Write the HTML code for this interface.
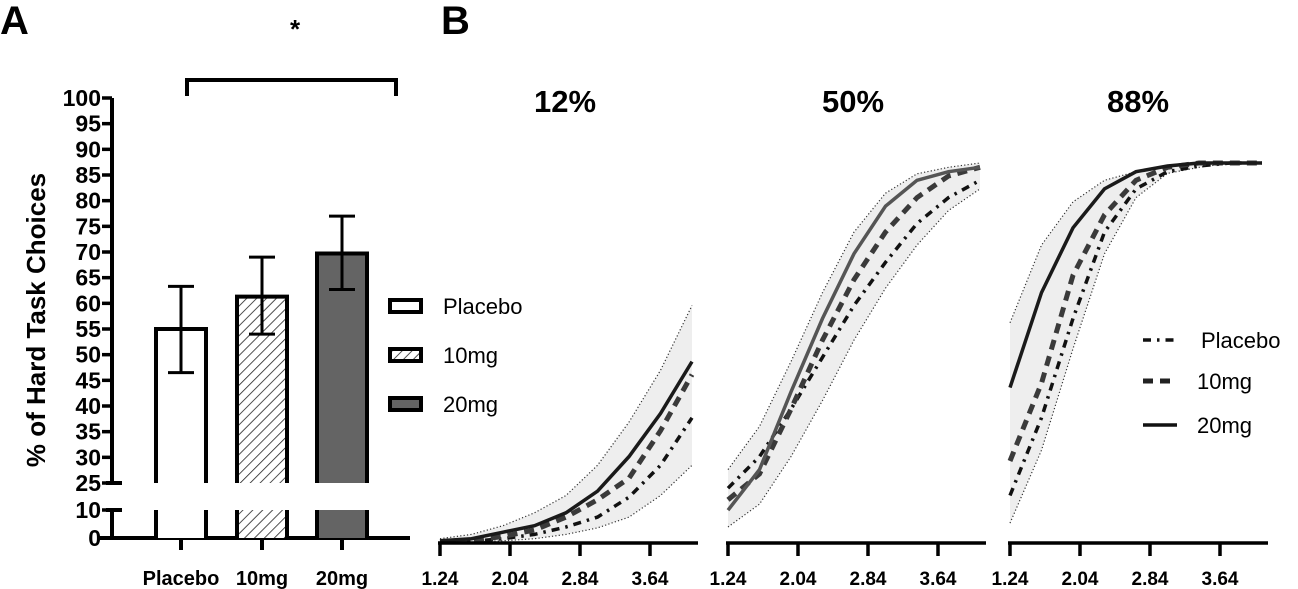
<!DOCTYPE html>
<html><head><meta charset="utf-8">
<style>
html,body{margin:0;padding:0;background:#fff;}
svg{display:block;font-family:"Liberation Sans",Arial,sans-serif;}
</style></head>
<body>
<svg id="fig" width="1298" height="589" viewBox="0 0 1298 589" xmlns="http://www.w3.org/2000/svg"></svg>
<script>
// ---------- Panel A data ----------
const barCategories = ["Placebo", "10mg", "20mg"];
const barMeans = [55, 61.3, 69.7];
const barErrLow = [46.5, 54, 62.7];
const barErrHigh = [63.3, 69, 77];
const yTicksUpper = [25,30,35,40,45,50,55,60,65,70,75,80,85,90,95,100];
const yTicksLower = [0,10];
// ---------- Panel B data ----------
const panelTitles = ["12%", "50%", "88%"];
const xPoints = [1.24,1.60,1.96,2.32,2.68,3.04,3.40,3.76,4.12];
const xTickLabels = [1.24,2.04,2.84,3.64];
const p12_20mg = [0.5,1,2.5,4,7,12,20,30,42];
const p12_10mg = [0.3,0.6,1.5,3,6,10,15,26,39];
const p12_placebo = [0.2,0.4,1,2,3.7,6,10.6,18,29];
const p12_bandHi = [1,2,4,7,11,18,28,40,55];
const p12_bandLo = [0,0.2,0.5,1,2,3.5,6,11,18];
const p50_20mg = [7.6,17,35,52,67,78,84,86,87];
const p50_10mg = [10,16,31,47,61,72,80,85,87];
const p50_placebo = [12.7,20,31,43,55,65,74,80,84];
const p50_bandHi = [17,27,42,58,72,81,85.5,87,88];
const p50_bandLo = [3.7,9,20,33,47,59,69,77,82];
const p88_20mg = [36,58,73,82,86,87.3,88,88,88];
const p88_10mg = [19,37,62,76,84,87,88,88,88];
const p88_placebo = [11,29,52,72,82,86,87.3,88,88];
const p88_bandHi = [51,69,79,84,86,87.5,88,88,88];
const p88_bandLo = [4.6,21.5,45,67,80,85.6,87,88,88];

const NS="http://www.w3.org/2000/svg";
const svg=document.getElementById('fig');
function mk(tag,attrs,parent,text){const e=document.createElementNS(NS,tag);for(const k in attrs)e.setAttribute(k,attrs[k]);if(text!==undefined)e.textContent=text;(parent||svg).appendChild(e);return e;}

const defs=mk('defs',{});
const pat=mk('pattern',{id:'hatch',patternUnits:'userSpaceOnUse',width:7,height:7,patternTransform:'rotate(45)'},defs);
mk('rect',{x:0,y:0,width:7,height:7,fill:'#fff'},pat);
mk('line',{x1:0,y1:0,x2:0,y2:7,stroke:'#222','stroke-width':1.6},pat);

let t=mk('text',{x:0,y:34,'font-size':40,'font-weight':'bold'},svg,'A');

t=mk('text',{x:441,y:34,'font-size':40,'font-weight':'bold'},svg,'B');


// ---------- Panel A ----------
const gA=mk('g',{});

const axX=112, upTop=98, upBot=483, loTop=510, loBot=538;
function yA(v){ if(v>=25) return upBot-(v-25)*(upBot-upTop)/75; return loBot-v*(loBot-loTop)/10; }
mk('line',{x1:axX,y1:upTop,x2:axX,y2:upBot,stroke:'#000','stroke-width':4},gA);
mk('line',{x1:axX,y1:loTop,x2:axX,y2:loBot,stroke:'#000','stroke-width':4},gA);
mk('line',{x1:100,y1:loBot,x2:410,y2:loBot,stroke:'#000','stroke-width':4},gA);
mk('line',{x1:106,y1:upBot,x2:122,y2:upBot,stroke:'#000','stroke-width':4},gA);
mk('line',{x1:106,y1:loTop,x2:122,y2:loTop,stroke:'#000','stroke-width':4},gA);
yTicksUpper.concat(yTicksLower).forEach(v=>{
  const y=yA(v);
  mk('line',{x1:axX-10,y1:y,x2:axX,y2:y,stroke:'#000','stroke-width':3.5},gA);
  const tx=mk('text',{x:axX-11,y:y+8,'text-anchor':'end','font-size':23,'font-weight':'bold'},gA,String(v));
  
});
t=mk('text',{x:0,y:0,transform:'translate(45,320) rotate(-90)','text-anchor':'middle','font-size':26,'font-weight':'bold'},gA,'% of Hard Task Choices');

const barCenters=[181,262,342], barW=50;
const fills=['#fff','url(#hatch)','#646464'];
barCategories.forEach((c,i)=>{
  const cx=barCenters[i], x0=cx-barW/2;
  const g=mk('g',{},gA);
  
  const yt=yA(barMeans[i]);
  mk('rect',{x:x0,y:yt,width:barW,height:upBot-yt,fill:fills[i],stroke:'none'},g);
  mk('rect',{x:x0,y:loTop,width:barW,height:loBot-loTop,fill:fills[i],stroke:'none'},g);
  const sw=4;
  mk('polyline',{points:`${x0},${upBot} ${x0},${yt} ${x0+barW},${yt} ${x0+barW},${upBot}`,fill:'none',stroke:'#000','stroke-width':sw},g);
  mk('line',{x1:x0,y1:loTop,x2:x0,y2:loBot,stroke:'#000','stroke-width':sw},g);
  mk('line',{x1:x0+barW,y1:loTop,x2:x0+barW,y2:loBot,stroke:'#000','stroke-width':sw},g);
  const eg=mk('g',{},g);
  
  mk('line',{x1:cx,y1:yA(barErrLow[i]),x2:cx,y2:yA(barErrHigh[i]),stroke:'#000','stroke-width':3},eg);
  mk('line',{x1:cx-13,y1:yA(barErrLow[i]),x2:cx+13,y2:yA(barErrLow[i]),stroke:'#000','stroke-width':3},eg);
  mk('line',{x1:cx-13,y1:yA(barErrHigh[i]),x2:cx+13,y2:yA(barErrHigh[i]),stroke:'#000','stroke-width':3},eg);
  mk('line',{x1:cx,y1:loBot,x2:cx,y2:550,stroke:'#000','stroke-width':4},g);
  const tx=mk('text',{x:cx,y:585,'text-anchor':'middle','font-size':20,'font-weight':'bold'},gA,c);
  
});
const br=mk('polyline',{points:'187,96 187,80 396,80 396,96',fill:'none',stroke:'#000','stroke-width':4},gA);

t=mk('text',{x:295,y:38,'text-anchor':'middle','font-size':26,'font-weight':'bold'},gA,'*');

const legA=mk('g',{});

const legAy=[306,355,404];
barCategories.forEach((c,i)=>{
  const g=mk('g',{},legA);
  
  mk('rect',{x:390,y:legAy[i]-6,width:31,height:12,fill:fills[i],stroke:'#000','stroke-width':4},g);
  mk('text',{x:443,y:legAy[i]+8,'font-size':22},g,c);
});

// ---------- Panel B ----------
const yB0=543, pxPerPct=4.318;
function yB(v){return yB0-v*pxPerPct;}
const panelX0=[440,728,1010], pxPerUnit=87.5;
const series=[
  [p12_bandHi,p12_bandLo,p12_placebo,p12_10mg,p12_20mg],
  [p50_bandHi,p50_bandLo,p50_placebo,p50_10mg,p50_20mg],
  [p88_bandHi,p88_bandLo,p88_placebo,p88_10mg,p88_20mg]];
const titleX=[565,853,1138];
panelTitles.forEach((title,p)=>{
  const g=mk('g',{});
  
  const xB=v=>panelX0[p]+(v-1.24)*pxPerUnit;
  const [hi,lo,pl,m10,m20]=series[p];
  const pts=a=>a.map((v,i)=>xB(xPoints[i]).toFixed(1)+','+yB(v).toFixed(1));
  const band=mk('polygon',{points:pts(hi).concat(pts(lo).reverse()).join(' '),fill:'#eeeeee',stroke:'none'},g);
  
  [hi,lo].forEach(a=>{mk('polyline',{points:pts(a).join(' '),fill:'none',stroke:'#333','stroke-width':1.2,'stroke-dasharray':'1.2 2.2'},g);});
  const lp=mk('polyline',{points:pts(pl).join(' '),fill:'none',stroke:'#111','stroke-width':3.5,'stroke-dasharray':'8 6 2.5 6'},g);
  
  const l10=mk('polyline',{points:pts(m10).join(' '),fill:'none',stroke:'#3a3a3a','stroke-width':5,'stroke-dasharray':'10 7'},g);
  
  const l20=mk('polyline',{points:pts(m20).join(' '),fill:'none',stroke:p===1?'#555':'#1a1a1a','stroke-width':3.5},g);
  
  const ax=mk('line',{x1:xB(1.24)-2,y1:yB0,x2:xB(4.12)+6,y2:yB0,stroke:'#000','stroke-width':3.5},g);
  
  xTickLabels.forEach(v=>{
    mk('line',{x1:xB(v),y1:yB0,x2:xB(v),y2:yB0+13,stroke:'#000','stroke-width':3.5},g);
    const tx=mk('text',{x:xB(v),y:585,'text-anchor':'middle','font-size':19,'font-weight':'bold'},g,v.toFixed(2));
    
  });
  const tt=mk('text',{x:titleX[p],y:112,'text-anchor':'middle','font-size':31,'font-weight':'bold'},g,title);
  
});
const legB=mk('g',{});

const lbNames=['Placebo','10mg','20mg'], lbY=[340,381,425];
const lbStyle=[{stroke:'#111','stroke-width':3.5,'stroke-dasharray':'8 6 2.5 6'},{stroke:'#222','stroke-width':5,'stroke-dasharray':'10 7'},{stroke:'#111','stroke-width':3.5}];
lbNames.forEach((n,i)=>{
  const g=mk('g',{},legB);
  
  mk('line',Object.assign({x1:1143,y1:lbY[i],x2:1177,y2:lbY[i],fill:'none'},lbStyle[i]),g);
  mk('text',{x:i===0?1201:1197,y:lbY[i]+8,'font-size':22},g,n);
});
</script>
</body></html>
